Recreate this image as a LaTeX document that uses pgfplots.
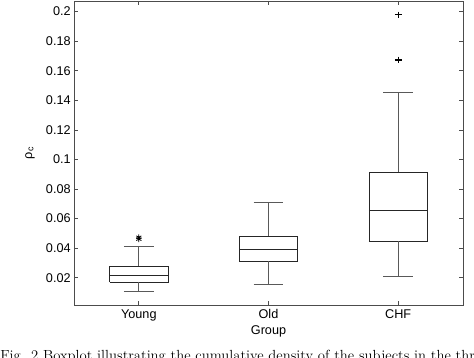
\documentclass[border=0pt]{standalone}
\usepackage{pgfplots}
\pgfplotsset{compat=1.18}
\usepackage{fontspec}
\newfontfamily\arial{Liberation Sans}
\begin{document}
\begin{tikzpicture}
\begin{axis}[
  at={(0pt,0pt)}, anchor=south west,
  scale only axis, width=291.75pt, height=228pt,
  clip=false,
  xmin=0.5, xmax=3.5, ymin=0.0015, ymax=0.2072,
  xtick={1,2,3}, xticklabels={Young,Old,CHF},
  ytick={0.02,0.04,0.06,0.08,0.1,0.12,0.14,0.16,0.18,0.2},
  /pgf/number format/fixed, /pgf/number format/precision=2,
  /pgf/number format/assume math mode=true,
  tick label style={font=\arial\fontsize{9.5}{11}\selectfont},
  label style={font=\arial\fontsize{9.5}{11}\selectfont},
  tick align=inside, major tick length=3pt,
  axis line style={black!70, line width=0.6pt},
  every tick/.style={black!70, line width=0.5pt},
  xlabel={Group}, ylabel={ρ\textsubscript{c}},
  xlabel style={at={(axis description cs:0.5,-0.088)}, anchor=center},
  ylabel style={at={(axis description cs:-0.113,0.5)}, anchor=center},
  yticklabel style={xshift=1pt},
  boxl/.style={draw=black!85, line width=0.6pt, mark=none},
  whl/.style={draw=black!65, line width=0.6pt, mark=none},
]
% ---- Young (x=1)
\addplot[boxl] coordinates {(0.775,0.0171) (1.225,0.0171) (1.225,0.0279) (0.775,0.0279) (0.775,0.0171)};
\addplot[boxl] coordinates {(0.775,0.0218) (1.225,0.0218)};
\addplot[whl] coordinates {(1,0.0279) (1,0.0413)};
\addplot[whl] coordinates {(1,0.0171) (1,0.011)};
\addplot[whl] coordinates {(0.885,0.0413) (1.115,0.0413)};
\addplot[whl] coordinates {(0.885,0.011) (1.115,0.011)};
\addplot[only marks, mark=asterisk, mark size=2.2pt, mark options={black, line width=0.6pt}] coordinates {(1,0.0473) (1,0.0461)};
% ---- Old (x=2)
\addplot[boxl] coordinates {(1.775,0.0311) (2.225,0.0311) (2.225,0.0482) (1.775,0.0482) (1.775,0.0311)};
\addplot[boxl] coordinates {(1.775,0.0388) (2.225,0.0388)};
\addplot[whl] coordinates {(2,0.0482) (2,0.0706)};
\addplot[whl] coordinates {(2,0.0311) (2,0.0155)};
\addplot[whl] coordinates {(1.885,0.0706) (2.115,0.0706)};
\addplot[whl] coordinates {(1.885,0.0155) (2.115,0.0155)};
% ---- CHF (x=3)
\addplot[boxl] coordinates {(2.775,0.0448) (3.225,0.0448) (3.225,0.0915) (2.775,0.0915) (2.775,0.0448)};
\addplot[boxl] coordinates {(2.775,0.0654) (3.225,0.0654)};
\addplot[whl] coordinates {(3,0.0915) (3,0.1454)};
\addplot[whl] coordinates {(3,0.0448) (3,0.021)};
\addplot[whl] coordinates {(2.885,0.1454) (3.115,0.1454)};
\addplot[whl] coordinates {(2.885,0.021) (3.115,0.021)};
\addplot[only marks, mark=+, mark size=2.5pt, mark options={black, line width=0.8pt}] coordinates {(3,0.1978) (3,0.1673)};
\end{axis}
\node[anchor=base west, inner sep=0pt, font=\fontsize{11}{13}\selectfont]
  at (-55.5pt,-41.25pt) {Fig. 2 Boxplot illustrating the cumulative density of the subjects in the three groups};
\pgfresetboundingbox
\path[use as bounding box] (-55.5pt,-39pt) rectangle (300pt,228.75pt);
\end{tikzpicture}
\end{document}
